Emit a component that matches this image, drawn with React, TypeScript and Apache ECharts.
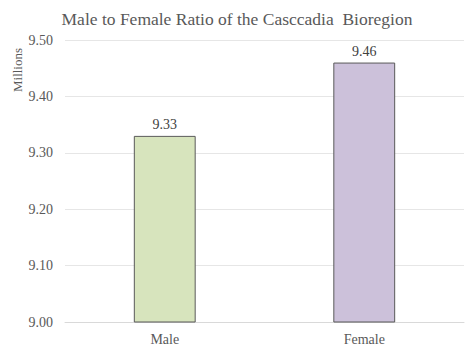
import React, { useEffect, useRef } from "react";
import * as echarts from "echarts";

const categories = ["Male", "Female"];
const values = [9.33, 9.46];
const barColors = ["#d7e4bd", "#ccc1da"];
const yTicks = { min: 9.0, max: 9.5, interval: 0.1 };

export default function App() {
  const ref = useRef<HTMLDivElement>(null);
  useEffect(() => {
    if (!ref.current) return;
    const chart = echarts.init(ref.current, null, { renderer: "svg" });
    const font = "Liberation Serif";
    chart.setOption({
      animation: false,
      backgroundColor: "#ffffff",
      textStyle: { fontFamily: font },
      title: {
        text: "Male to Female Ratio of the Casccadia  Bioregion",
        left: "center",
        top: 5,
        textStyle: { fontFamily: font, fontSize: 17.5, fontWeight: "normal", color: "#595959" },
      },
      graphic: [
        {
          type: "text",
          x: 17,
          y: 70,
          rotation: Math.PI / 2,
          style: {
            text: "Millions",
            fontFamily: font,
            fontSize: 13,
            fill: "#595959",
            textAlign: "center",
            textVerticalAlign: "middle",
          },
        },
      ],
      grid: { left: 65, right: 10, top: 40, bottom: 31, containLabel: false },
      xAxis: {
        type: "category",
        data: categories,
        axisLine: { lineStyle: { color: "#d9d9d9" } },
        axisTick: { show: false },
        axisLabel: { fontFamily: font, fontSize: 14, color: "#595959", margin: 10 },
      },
      yAxis: {
        type: "value",
        min: yTicks.min,
        max: yTicks.max,
        interval: yTicks.interval,
        axisLine: { show: false },
        axisTick: { show: false },
        splitLine: { lineStyle: { color: "#e6e6e6" } },
        axisLabel: {
          fontFamily: font,
          fontSize: 14,
          color: "#595959",
          margin: 12,
          formatter: (v: number) => v.toFixed(2),
        },
      },
      series: [
        {
          type: "bar",
          barWidth: "31%",
          data: values.map((v, i) => ({
            value: v,
            itemStyle: { color: barColors[i], borderColor: "#595959", borderWidth: 1 },
          })),
          label: {
            show: true,
            position: "top",
            distance: 4,
            fontFamily: font,
            fontSize: 14,
            color: "#404040",
            formatter: (p: any) => Number(p.value).toFixed(2),
          },
        },
      ],
    });
    return () => chart.dispose();
  }, []);
  return (
    <div
      ref={ref}
      style={{ position: "fixed", left: 0, top: 0, width: 474, height: 353 }}
    />
  );
}
